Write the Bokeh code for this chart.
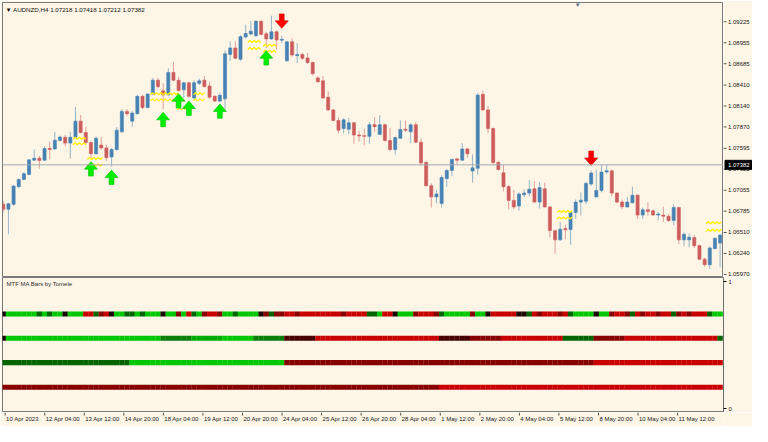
import numpy as np
from bokeh.plotting import figure
from bokeh.layouts import column, row
from bokeh.models import Range1d, FixedTicker, Span, Label, ColumnDataSource
from bokeh.embed import file_html
from bokeh.resources import INLINE
from bokeh.core.properties import value

# ---------------- data ----------------
opens = [1.06873,1.06810,1.06873,1.07101,1.07193,1.07259,1.07442,1.07467,1.07442,1.07595,
         1.07587,1.07695,1.07737,1.07662,1.07737,1.07945,1.07799,1.07670,1.07525,1.07637,
         1.07600,1.07483,1.07579,1.07807,1.08070,1.07945,1.08041,1.08265,1.08120,1.08294,
         1.08473,1.08336,1.08282,1.08573,1.08473,1.08348,1.08440,1.08244,1.08432,1.08473,
         1.08398,1.08265,1.08203,1.08232,1.08805,1.08888,1.08743,1.09029,1.09067,1.09046,
         1.09233,1.09071,1.09005,1.09096,1.08988,1.08722,1.08967,1.08789,1.08805,1.08760,
         1.08701,1.08502,1.08465,1.08253,1.08090,1.07953,1.07849,1.07841,1.07924,1.07766,
         1.07758,1.07749,1.07899,1.07774,1.07899,1.07695,1.07579,1.07724,1.07841,1.07807,
         1.07899,1.07674,1.07413,1.07114,1.06968,1.06885,1.07205,1.07309,1.07458,1.07442,
         1.07587,1.07301,1.07338,1.08290,1.08090,1.07849,1.07413,1.07280,1.07101,1.06923,
         1.06852,1.06997,1.07018,1.07073,1.06902,1.07073,1.06839,1.06531,1.06415,1.06560,
         1.06548,1.06769,1.06902,1.06914,1.07135,1.06968,1.07052,1.07289,1.07305,1.07018,
         1.06902,1.06839,1.06893,1.06989,1.06735,1.06802,1.06789,1.06735,1.06735,1.06719,
         1.06665,1.06831,1.06415,1.06415,1.06444,1.06340,1.06165,1.06095,1.06303,1.06374]
highs = [1.06914,1.06893,1.07122,1.07205,1.07289,1.07454,1.07579,1.07496,1.07620,1.07683,
         1.07807,1.07758,1.07766,1.07807,1.08128,1.08024,1.07870,1.07683,1.07745,1.07745,
         1.07641,1.07600,1.07870,1.08099,1.08099,1.08078,1.08286,1.08286,1.08306,1.08502,
         1.08502,1.08432,1.08627,1.08710,1.08515,1.08452,1.08452,1.08473,1.08494,1.08527,
         1.08452,1.08278,1.08306,1.08855,1.08971,1.08971,1.09054,1.09188,1.09233,1.09242,
         1.09242,1.09096,1.09304,1.09117,1.09046,1.08980,1.09013,1.08950,1.08826,1.08826,
         1.08714,1.08527,1.08527,1.08328,1.08099,1.07995,1.07983,1.07983,1.07933,1.07816,
         1.07849,1.07933,1.07995,1.08024,1.07912,1.07857,1.07745,1.07953,1.07953,1.07912,
         1.07933,1.07724,1.07434,1.07143,1.07060,1.07247,1.07330,1.07467,1.07475,1.07662,
         1.07600,1.07516,1.08306,1.08336,1.08140,1.07862,1.07434,1.07384,1.07122,1.07060,
         1.07027,1.07068,1.07185,1.07176,1.07164,1.07152,1.06852,1.06552,1.06644,1.06610,
         1.06789,1.06935,1.07027,1.07164,1.07309,1.07318,1.07384,1.07384,1.07318,1.07027,
         1.06935,1.06968,1.07101,1.07006,1.06831,1.06902,1.06810,1.06777,1.06843,1.06748,
         1.06873,1.06843,1.06511,1.06498,1.06477,1.06353,1.06186,1.06332,1.06444,1.06486]
lows = [1.06769,1.06486,1.06852,1.07081,1.07185,1.07247,1.07434,1.07330,1.07434,1.07454,
        1.07579,1.07683,1.07620,1.07462,1.07724,1.07787,1.07649,1.07462,1.07516,1.07579,
        1.07434,1.07359,1.07566,1.07799,1.08016,1.07870,1.08029,1.08099,1.08107,1.08286,
        1.08369,1.08099,1.08273,1.08460,1.08328,1.08244,1.08244,1.08223,1.08411,1.08378,
        1.08236,1.08190,1.08190,1.08099,1.08722,1.08743,1.08722,1.09013,1.09054,1.09034,
        1.09054,1.08888,1.08992,1.08867,1.08950,1.08714,1.08776,1.08693,1.08734,1.08681,
        1.08535,1.08444,1.08232,1.08078,1.07945,1.07787,1.07787,1.07774,1.07654,1.07683,
        1.07633,1.07654,1.07807,1.07766,1.07683,1.07558,1.07516,1.07716,1.07807,1.07662,
        1.07662,1.07372,1.07101,1.06831,1.06885,1.06831,1.07101,1.07239,1.07392,1.07434,
        1.07475,1.07152,1.07255,1.08078,1.07787,1.07372,1.07309,1.07039,1.06810,1.06810,
        1.06789,1.06968,1.06976,1.06893,1.06818,1.06831,1.06448,1.06236,1.06402,1.06423,
        1.06353,1.06686,1.06727,1.06873,1.07109,1.06968,1.07027,1.07268,1.06976,1.06885,
        1.06810,1.06831,1.06885,1.06686,1.06686,1.06727,1.06727,1.06665,1.06644,1.06644,
        1.06602,1.06361,1.06332,1.06320,1.06311,1.06153,1.06070,1.06041,1.06291,1.06061]
closes = [1.06810,1.06881,1.07109,1.07193,1.07268,1.07446,1.07467,1.07438,1.07591,1.07579,
          1.07699,1.07741,1.07662,1.07737,1.07945,1.07799,1.07670,1.07525,1.07724,1.07600,
          1.07475,1.07579,1.07828,1.08070,1.08041,1.08049,1.08265,1.08120,1.08294,1.08473,
          1.08390,1.08282,1.08573,1.08473,1.08340,1.08440,1.08265,1.08440,1.08465,1.08390,
          1.08253,1.08203,1.08278,1.08813,1.08888,1.08755,1.09034,1.09075,1.09104,1.09233,
          1.09063,1.09005,1.09096,1.08992,1.09000,1.08967,1.08797,1.08805,1.08755,1.08701,
          1.08556,1.08452,1.08244,1.08090,1.07953,1.07828,1.07962,1.07924,1.07766,1.07753,
          1.07749,1.07899,1.07874,1.07899,1.07695,1.07579,1.07733,1.07837,1.07828,1.07899,
          1.07674,1.07405,1.07114,1.06968,1.07006,1.07218,1.07309,1.07450,1.07442,1.07587,
          1.07525,1.07343,1.08282,1.08090,1.07849,1.07413,1.07322,1.07101,1.06923,1.06839,
          1.07006,1.07018,1.07068,1.06902,1.07089,1.06839,1.06535,1.06415,1.06552,1.06544,
          1.06769,1.06902,1.06927,1.07143,1.07276,1.07052,1.07289,1.07305,1.07018,1.06902,
          1.06843,1.06902,1.06989,1.06735,1.06802,1.06781,1.06735,1.06748,1.06719,1.06665,
          1.06831,1.06415,1.06486,1.06448,1.06340,1.06165,1.06095,1.06311,1.06436,1.06477]

price_ticks = [1.09225, 1.08955, 1.08685, 1.08410, 1.08140, 1.07870, 1.07595,
               1.07325, 1.07055, 1.06785, 1.06510, 1.06240, 1.05970]
current_price = 1.07382
header_text = "\u25BC AUDNZD,H4 1.07218 1.07418 1.07212 1.07382"

time_tick_idx = [0, 8, 16, 24, 32, 40, 48, 56, 64, 72, 80, 88, 96, 104, 112, 120, 128, 136]
time_tick_labels = ["10 Apr 2023", "12 Apr 04:00", "13 Apr 12:00", "14 Apr 20:00", "18 Apr 04:00",
                    "19 Apr 12:00", "20 Apr 20:00", "24 Apr 04:00", "25 Apr 12:00", "26 Apr 20:00",
                    "28 Apr 04:00", "1 May 12:00", "2 May 20:00", "4 May 04:00", "5 May 12:00",
                    "8 May 20:00", "10 May 04:00", "11 May 12:00"]

# signal arrows (candle index, price of arrow centre)
up_idx = [17, 21, 31, 34, 36, 42, 51]
up_price = [1.07330, 1.07221, 1.07966, 1.08206, 1.08111, 1.08074, 1.08760]
down_idx = [54, 114]
down_price = [1.09234, 1.07467]

# yellow zigzag marks (start index, end index, price)
zz_start = [13.5, 13.5, 16.3, 16.3, 28.5, 28.5, 33.7, 36.9, 36.9, 47.4, 47.4, 50.4, 50.4, 107.4, 107.4, 136.3, 136.3]
zz_end = [16.1, 16.1, 19.4, 19.4, 34.2, 34.2, 35.6, 39.4, 39.4, 50.2, 50.2, 53.3, 53.3, 110.4, 110.4, 139.4, 139.4]
zz_price = [1.07725, 1.07654, 1.07463, 1.07379, 1.08298, 1.08219, 1.08103, 1.08298, 1.08219,
            1.08972, 1.08880, 1.08922, 1.08847, 1.06781, 1.06697, 1.06635, 1.06540]

# indicator rows (run-length: state, count)
row1_runs = [("K",1),("G",6),("D",1),("G",1),("D",1),("G",2),("K",1),("G",3),("R",2),("D",1),("E",1),
             ("R",1),("K",1),("G",2),("D",2),("G",1),("D",1),("G",3),("K",1),("G",2),("E",1),("G",1),
             ("R",1),("D",1),("G",1),("E",1),("R",2),("E",1),("G",2),("D",1),("G",4),("K",1),("E",1),
             ("D",1),("E",2),("R",2),("E",1),("R",8),("E",1),("R",4),("D",2),("G",1),("R",2),("K",1),
             ("G",3),("E",1),("R",3),("E",1),("D",1),("G",5),("E",1),("G",2),("K",1),("R",5),("K",2),
             ("D",1),("R",1),("E",1),("R",3),("E",1),("R",1),("D",1),("G",4),("K",1),("G",2),("E",1),
             ("R",2),("E",1),("D",1),("R",1),("E",1),("R",2),("E",1),("R",2),("D",1),("E",1),("R",1),
             ("E",1),("R",3),("D",1),("G",2)]
row2_runs = [("K",1),("G",30),("M",6),("B",6),("G",6),("M",6),("V",6),("R",24),("V",6),("E",6),
             ("R",12),("D",6),("E",6),("R",18),("D",1)]
row3_runs = [("D",25),("G",30),("E",60),("R",25)]
row4_runs = [("E",85),("R",55)]

# ---------------- style ----------------
BG = "#FDF5E6"
FONT = "Liberation Sans"
FS = "6px"
FS_HEAD = "6.2px"
TXT = "#202020"
AXC = "#6E6E6E"
PAL = {"G": "#00C800", "B": "#00AC00", "M": "#0A7E0A", "D": "#006400",
       "K": "#1C0606", "V": "#460000", "E": "#860000", "R": "#C80000"}
UP_C, DN_C = "#4682B4", "#CD5C5C"

W = 752
BL, BR = 2, 29
MAIN_H, TOP = 277, 2
IND_H = 135
STRIP_H = 14

n = len(opens)
idx = np.arange(n)
o, h, l, c = map(np.array, (opens, highs, lows, closes))
bull = c >= o
col = np.where(bull, UP_C, DN_C).tolist()

X0, X1 = -0.15, n - 0.34
Y0, Y1 = 1.05930, 1.09474
plot_w = W - BL - BR
plot_h = MAIN_H - TOP
sx = (X1 - X0) / plot_w
sy = (Y1 - Y0) / plot_h

common = dict(output_backend="svg", toolbar_location=None,
              background_fill_color=BG, border_fill_color=BG)

# ---------------- main price panel ----------------
p = figure(width=W - BR, height=MAIN_H, x_range=Range1d(X0, X1), y_range=Range1d(Y0, Y1),
           x_axis_location=None, y_axis_location=None,
           min_border_left=BL, min_border_right=0, min_border_top=TOP, min_border_bottom=0,
           outline_line_color="#7A7A7A", outline_line_width=1, **common)
p.grid.visible = False

p.add_layout(Span(location=current_price, dimension="width", line_color="#A3ABB5", line_width=1))

src = ColumnDataSource(dict(x=idx, o=o, h=h, l=l, c=c,
                            top=np.maximum(o, c), bot=np.minimum(o, c), col=col))
p.segment(x0="x", y0="l", x1="x", y1="h", source=src, line_color="col", line_alpha=0.55, line_width=1)
p.vbar(x="x", top="top", bottom="bot", width=0.6, source=src,
       fill_color="col", line_color="col", line_width=0.6)

# zigzags
zx, zy = [], []
amp = 1.0 * sy
step = 0.42
for s, e, pr in zip(zz_start, zz_end, zz_price):
    k = np.arange(0, int((e - s) / step) + 1)
    zx.append((s + k * step).tolist())
    zy.append((pr + np.where(k % 2 == 0, -amp, amp)).tolist())
p.multi_line(xs=zx, ys=zy, line_color="#FFF000", line_width=1.3)

# arrows
tmpl = [(0, 7.2), (6.5, -0.3), (2.4, -0.3), (2.4, -7.2), (-2.4, -7.2), (-2.4, -0.3), (-6.5, -0.3)]
def arrows(ix, pr, direction):
    xs, ys = [], []
    for i, v in zip(ix, pr):
        xs.append([i + dx * sx for dx, dy in tmpl])
        ys.append([v + direction * dy * sy for dx, dy in tmpl])
    return xs, ys
ux, uy = arrows(up_idx, up_price, 1)
p.patches(ux, uy, fill_color="#00F000", line_color="#00C000", line_width=0.6)
dx_, dy_ = arrows(down_idx, down_price, -1)
p.patches(dx_, dy_, fill_color="#FF0000", line_color="#D00000", line_width=0.6)

p.add_layout(Label(x=X0, y=Y1, x_offset=3, y_offset=-3, text=header_text,
                   text_font=FONT, text_font_size=FS_HEAD, text_color="#101010",
                   text_baseline="top", text_align="left"))
p.add_layout(Label(x=111.4, y=Y1, y_offset=1, text="\u25BC", text_font=FONT, text_font_size="6px",
                   text_color="#5B6C88", text_baseline="top", text_align="center"))

# ---------------- price scale (shares the y scale of the price panel) ----------------
pa = figure(width=BR, height=MAIN_H, x_range=Range1d(0, BR), y_range=p.y_range,
            x_axis_location=None, y_axis_location=None,
            min_border_left=0, min_border_right=0, min_border_top=TOP, min_border_bottom=0,
            outline_line_color=None, **common)
pa.grid.visible = False
nt = len(price_ticks)
pa.segment(x0=[0] * nt, x1=[3] * nt, y0=price_ticks, y1=price_ticks, line_color="#505050", line_width=1)
pa.text(x=[4.5] * nt, y=price_ticks, text=["%.5f" % t for t in price_ticks],
        text_font=value(FONT), text_font_size=value(FS), text_color=TXT,
        text_baseline="middle", text_align="left")
pa.rect(x=[BR / 2 + 1], y=[current_price], width=BR - 1, height=9 * sy,
        fill_color="black", line_color="black")
pa.text(x=[4.5], y=[current_price], text=["%.5f" % current_price],
        text_font=value(FONT), text_font_size=value(FS), text_color="white",
        text_baseline="middle", text_align="left")

# ---------------- indicator panel ----------------
IY0, IY1 = -0.029, 1.034
levels = [0.746, 0.555, 0.364, 0.170]
cx, cy, cc = [], [], []
for lev, runs in zip(levels, [row1_runs, row2_runs, row3_runs, row4_runs]):
    states = [s for s, k in runs for _ in range(k)]
    for i, s in enumerate(states):
        cx.append(i)
        cy.append(lev)
        cc.append(PAL[s])

q = figure(width=W, height=IND_H, x_range=p.x_range, y_range=Range1d(IY0, IY1),
           x_axis_location=None, y_axis_location="right",
           min_border_left=BL, min_border_right=BR, min_border_top=0, min_border_bottom=0,
           outline_line_color="#7A7A7A", outline_line_width=1, **common)
q.grid.visible = False
q.rect(x=cx, y=cy, width=1.04, height=0.040, fill_color=cc, line_color=None)

qy = q.yaxis[0]
qy.ticker = FixedTicker(ticks=[0, 1])
qy.major_label_text_font = FONT
qy.major_label_text_font_size = FS
qy.major_label_text_color = TXT
qy.major_tick_in = 0
qy.major_tick_out = 3
qy.minor_tick_in = 0
qy.minor_tick_out = 0
qy.major_label_standoff = 2
qy.axis_line_color = AXC
q.add_layout(Label(x=X0, y=IY1, x_offset=4, y_offset=-3, text="MTF MA Bars by Tomele",
                   text_font=FONT, text_font_size=FS, text_color="#303030",
                   text_baseline="top", text_align="left"))

# ---------------- time scale strip (same x scale, widened to the full width) ----------------
ts = figure(width=W, height=STRIP_H, x_range=Range1d(X0 - BL * sx, X1 + BR * sx),
            y_range=Range1d(0, STRIP_H),
            x_axis_location=None, y_axis_location=None,
            min_border_left=0, min_border_right=0, min_border_top=0, min_border_bottom=0,
            outline_line_color=None, **common)
ts.grid.visible = False
nk = len(time_tick_idx)
ts.segment(x0=time_tick_idx, x1=time_tick_idx, y0=[STRIP_H] * nk, y1=[STRIP_H - 3] * nk,
           line_color="#505050", line_width=1)
ts.text(x=[i + 1.0 * sx for i in time_tick_idx], y=[STRIP_H - 3.5] * nk, text=time_tick_labels,
        text_font=value(FONT), text_font_size=value(FS), text_color=TXT,
        text_baseline="top", text_align="left")

layout = column(row(p, pa, spacing=0), q, ts, spacing=0)
open("out.html", "w").write(file_html(layout, INLINE))
